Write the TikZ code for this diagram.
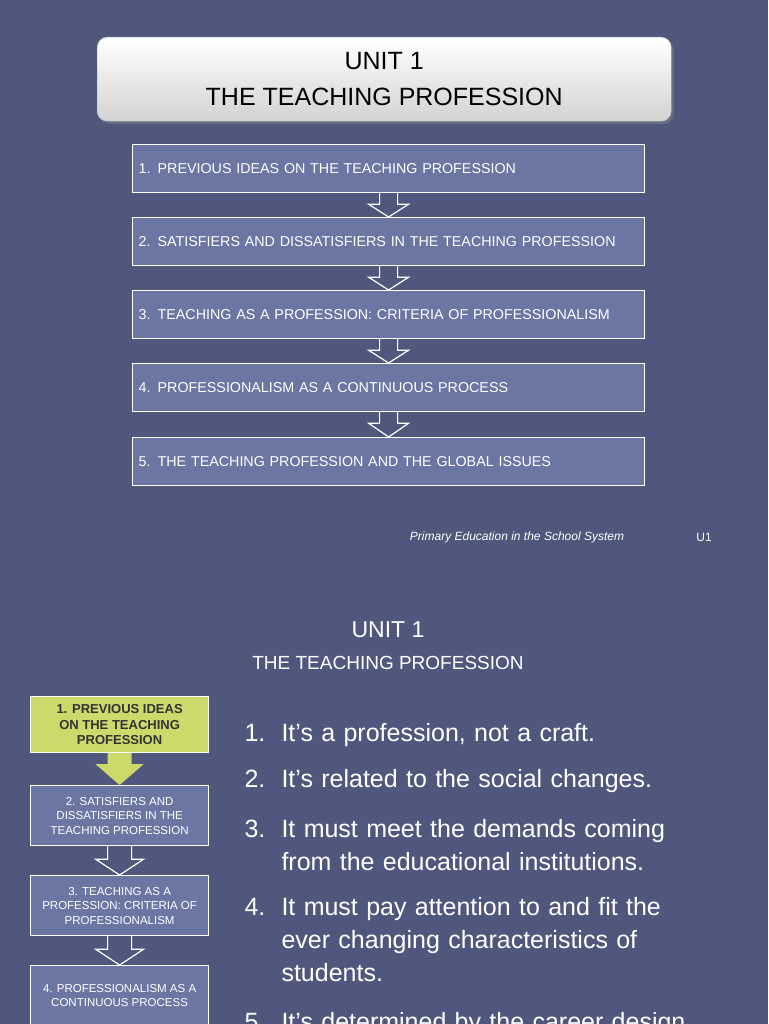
\documentclass[tikz,border=0pt]{standalone}
\usepackage{fontspec}
\setmainfont{Liberation Sans}
\usetikzlibrary{shadows,calc}
\definecolor{bg}{HTML}{4F587C}
\definecolor{boxf}{HTML}{6B76A3}
\definecolor{yel}{HTML}{CCD96B}
\tikzset{
 topbox/.style={draw=white,line width=1.2pt,fill=boxf,minimum width=512pt,minimum height=48pt,anchor=north west,text width=500pt,align=left,font=\fontsize{14.3}{16}\selectfont,text=white},
 lbox/.style={draw=white,line width=1.2pt,fill=boxf,minimum width=178pt,minimum height=60pt,anchor=north west,align=center,font=\fontsize{11.5}{14.5}\selectfont,text=white},
 harrow/.style={draw=white,line width=1.2pt,fill=bg},
}
\newcommand{\blockarrow}[6]{% style, from, to, stem half, head half, stem len
 \path[#1] ($(#2)+(-#4,0)$) -- ++(0,#6) -- ($(#2)+(-#5,#6)$) -- (#3) -- ($(#2)+(#5,#6)$) -- ($(#2)+(#4,#6)$) -- ($(#2)+(#4,0)$);}
\newcommand{\nl}[1]{\makebox[37pt][l]{#1}}
\begin{document}
\begin{tikzpicture}[x=1pt,y=-1pt]
\useasboundingbox (0,0) rectangle (768,1024);
\fill[bg] (0,0) rectangle (768,1024);
% title
\node[rounded corners=10pt,top color=white,bottom color=gray!35,draw=gray!50,minimum width=574pt,minimum height=84pt,anchor=north west,drop shadow,align=center,font=\fontsize{25}{36}\selectfont] (title) at (97,37) {UNIT 1\\THE TEACHING PROFESSION};
% top flow
\foreach \i/\y/\t in {1/144/1. PREVIOUS IDEAS ON THE TEACHING PROFESSION,
 2/217/2. SATISFIERS AND DISSATISFIERS IN THE TEACHING PROFESSION,
 3/290/3. TEACHING AS A PROFESSION: CRITERIA OF PROFESSIONALISM,
 4/363/4. PROFESSIONALISM AS A CONTINUOUS PROCESS,
 5/437/5. THE TEACHING PROFESSION AND THE GLOBAL ISSUES}
 \node[topbox] (t\i) at (132,\y) {\t};
\foreach \a/\b in {t1/t2,t2/t3,t3/t4,t4/t5}{
 \blockarrow{harrow}{\a.south}{\b.north}{9}{20}{11}
}
\node[font=\itshape\fontsize{12}{14}\selectfont,text=white] (foot) at (517,537) {Primary Education in the School System};
\node[font=\fontsize{12}{14}\selectfont,text=white] (u1) at (704,537) {U1};
% lower slide
\node[font=\fontsize{23}{26}\selectfont,text=white] (unit) at (388,630) {UNIT 1};
\node[font=\fontsize{19}{22}\selectfont,text=white] (tp) at (388,663) {THE TEACHING PROFESSION};
\node[lbox,fill=yel,minimum height=56pt,font=\bfseries\fontsize{13}{15.5}\selectfont,text=black!80] (l1) at (30,696) {1. PREVIOUS IDEAS\\ON THE TEACHING\\PROFESSION};
\node[lbox] (l2) at (30,785) {2. SATISFIERS AND\\DISSATISFIERS IN THE\\TEACHING PROFESSION};
\node[lbox] (l3) at (30,875) {3. TEACHING AS A\\PROFESSION: CRITERIA OF\\PROFESSIONALISM};
\node[lbox] (l4) at (30,965) {4. PROFESSIONALISM AS A\\CONTINUOUS PROCESS};
\blockarrow{fill=yel}{l1.south}{l2.north}{12}{24}{11}
\foreach \a/\b in {l2/l3,l3/l4}{
 \blockarrow{harrow}{\a.south}{\b.north}{12}{24}{13}
}
\begin{scope}[every node/.style={anchor=west,text=white,font=\fontsize{25}{33}\selectfont,align=left,text width=520pt}]
\node (n1) at (241,735) {\nl{1.}It’s a profession, not a craft.};
\node (n2) at (241,781) {\nl{2.}It’s related to the social changes.};
\node (n3) at (241,845) {\nl{3.}It must meet the demands coming\\\nl{}from the educational institutions.};
\node (n4) at (241,940) {\nl{4.}It must pay attention to and fit the\\\nl{}ever changing characteristics of\\\nl{}students.};
\node (n5) at (241,1024) {\nl{5.}It’s determined by the career design};
\end{scope}
\end{tikzpicture}
\end{document}
